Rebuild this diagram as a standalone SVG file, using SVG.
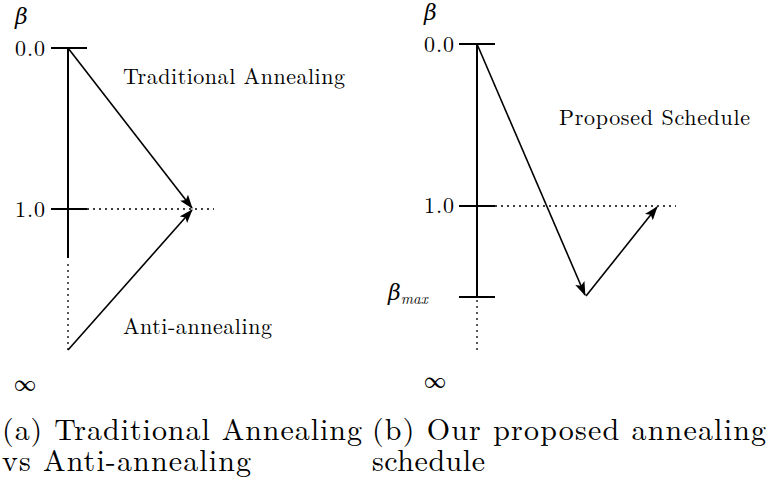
<svg xmlns="http://www.w3.org/2000/svg" width="768" height="482" viewBox="0 0 768 482">
<style>
text{font-family:"Latin Modern Roman","DejaVu Serif","Liberation Serif",serif;fill:#000}
.t{font-size:22px}
.c{font-size:30px}
.i{font-style:italic}
.s{stroke:#000;stroke-width:2;fill:none}
.a{stroke:#000;stroke-width:1.6;fill:none;marker-end:url(#ah)}
.d{stroke:#000;stroke-width:1.3;stroke-dasharray:2 4;fill:none}
</style>
<defs><marker id="ah" markerWidth="14" markerHeight="10" refX="13" refY="5" orient="auto" markerUnits="userSpaceOnUse"><path d="M0,0 L14,5 L0,10 L3,5 Z" fill="#000"/></marker></defs>
<rect width="768" height="482" fill="#fff"/>
<g id="axisA">
<line class="s" x1="68" y1="48" x2="68" y2="258"/>
<line class="s" x1="51" y1="48" x2="87" y2="48"/>
<line class="s" x1="51" y1="209" x2="87" y2="209"/>
<line class="d" x1="68" y1="264" x2="68" y2="350"/>
<line class="d" x1="87" y1="209" x2="214" y2="209"/>
<text class="t i" x="15" y="24">β</text>
<text class="t" x="15" y="56" textLength="30">0.0</text>
<text class="t" x="15" y="217" textLength="30">1.0</text>
<text class="t" x="14" y="391" font-size="28">∞</text>
</g>
<g id="labelsA">
<text class="t" x="123" y="84" textLength="222">Traditional Annealing</text>
<text class="t" x="123" y="334" textLength="149">Anti-annealing</text>
</g>
<g id="axisB">
<line class="s" x1="477" y1="44" x2="477" y2="297"/>
<line class="s" x1="459" y1="44" x2="495" y2="44"/>
<line class="s" x1="459" y1="206" x2="495" y2="206"/>
<line class="s" x1="459" y1="297" x2="495" y2="297"/>
<line class="d" x1="477" y1="300" x2="477" y2="352"/>
<line class="d" x1="495" y1="206" x2="676" y2="206"/>
<text class="t i" x="424" y="20">β</text>
<text class="t" x="424" y="52" textLength="30">0.0</text>
<text class="t" x="424" y="213" textLength="30">1.0</text>
<text class="t i" x="388" y="300">β<tspan font-size="15" dy="4">max</tspan></text>
<text class="t" x="424" y="388" font-size="28">∞</text>
<text class="t" x="559" y="125" textLength="191">Proposed Schedule</text>
</g>
<g id="connectors">
<line class="a" x1="68" y1="48" x2="192" y2="208"/>
<line class="a" x1="68" y1="350" x2="192" y2="210"/>
<line class="a" x1="477" y1="44" x2="585" y2="295"/>
<line class="a" x1="586" y1="296" x2="657" y2="207"/>
</g>
<g id="captions">
<text class="c" x="2" y="440" textLength="360">(a) Traditional Annealing</text>
<text class="c" x="2" y="471" textLength="249">vs Anti-annealing</text>
<text class="c" x="372" y="440" textLength="394">(b) Our proposed annealing</text>
<text class="c" x="372" y="471" textLength="113">schedule</text>
</g>
</svg>
